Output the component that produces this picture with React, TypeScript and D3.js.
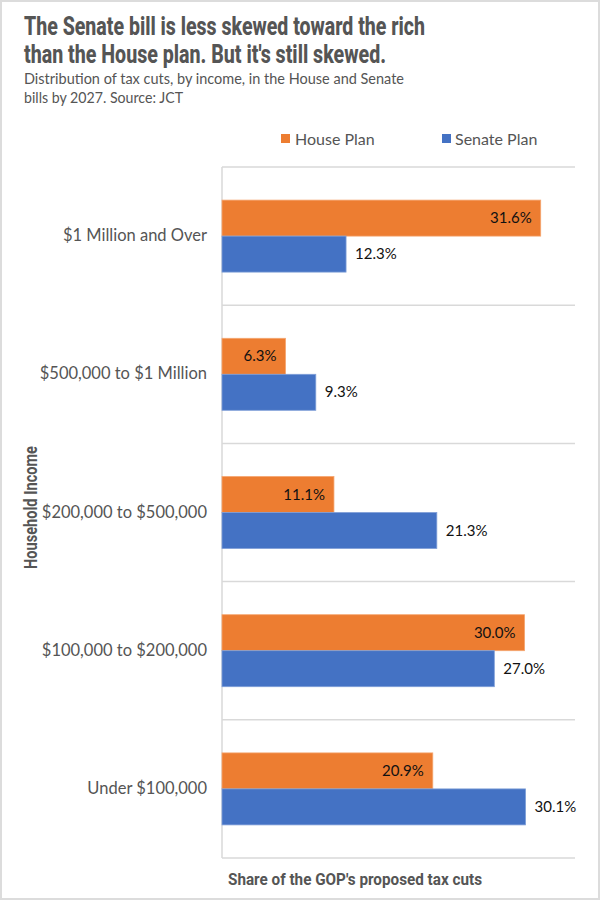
import * as d3 from "d3";

const categories = [
  "$1 Million and Over",
  "$500,000 to $1 Million",
  "$200,000 to $500,000",
  "$100,000 to $200,000",
  "Under $100,000",
];
const series = ["House Plan", "Senate Plan"];
const houseValues = [31.6, 6.3, 11.1, 30.0, 20.9];
const senateValues = [12.3, 9.3, 21.3, 27.0, 30.1];
const titleLines = [
  "The Senate bill is less skewed toward the rich",
  "than the House plan. But it's still skewed.",
];
const subtitleLines = [
  "Distribution of tax cuts, by income, in the House and Senate",
  "bills by 2027. Source: JCT",
];
const yTitle = "Household Income";
const xTitle = "Share of the GOP's proposed tax cuts";

const W = 600;
const H = 900;
const COLORS = { house: "#ED7D31", senate: "#4472C4" };
const GRID = "#d9d9d9";
const TEXT = "#555555";
const LATO = "Lato, 'Noto Sans', sans-serif";
const COND = "Roboto, 'Noto Sans', sans-serif";

export default function App() {
  const m = { top: 167, right: 25, bottom: 42, left: 222 };
  const x = d3.scaleLinear().domain([0, 35]).range([m.left, W - m.right]);
  const y = d3.scaleBand().domain(categories).range([m.top, H - m.bottom]).paddingInner(0);
  const bw = y.bandwidth();
  const barH = 36;
  const inner = d3.scaleBand().domain(series).range([(bw - 2 * barH) / 2, (bw + 2 * barH) / 2]);

  const rows = categories.map((c, i) => ({ cat: c, house: houseValues[i], senate: senateValues[i] }));
  const boundaries = [...categories.map((c) => y(c) as number), H - m.bottom];
  const fmt = (v: number) => `${v.toFixed(1)}%`;

  return (
    <div style={{ position: "absolute", top: 0, left: 0 }}>
      <svg width={W} height={H} style={{ display: "block", background: "#fff" }}>
        <rect x={1} y={1} width={W - 2} height={H - 2} fill="#fff" stroke="#dcdcdc" strokeWidth={2} />

        {/* Title */}
        {titleLines.map((t, i) => (
          <text key={t} x={24} y={35 + i * 28} fill={TEXT} fontFamily={COND} fontWeight={800} fontSize={26}
            textLength={i === 0 ? 401 : 362} lengthAdjust="spacingAndGlyphs">{t}</text>
        ))}
        {subtitleLines.map((t, i) => (
          <text key={t} x={24} y={84 + i * 19} fill={TEXT} fontFamily={LATO} fontSize={16}
            textLength={i === 0 ? 380 : 159} lengthAdjust="spacingAndGlyphs">{t}</text>
        ))}

        {/* Legend */}
        <rect x={281} y={134} width={9} height={9} fill={COLORS.house} />
        <text x={295} y={145} fill={TEXT} fontFamily={LATO} fontSize={16}>{series[0]}</text>
        <rect x={442} y={134} width={9} height={9} fill={COLORS.senate} />
        <text x={455} y={145} fill={TEXT} fontFamily={LATO} fontSize={16}>{series[1]}</text>

        {/* Grid */}
        {boundaries.map((b, i) => (
          <line key={i} x1={m.left} x2={W - m.right} y1={b} y2={b} stroke={GRID} strokeWidth={1.5} />
        ))}
        <line x1={m.left} x2={m.left} y1={m.top} y2={H - m.bottom} stroke={GRID} strokeWidth={1.5} />

        {/* Bars */}
        {rows.map((r) => {
          const y0 = y(r.cat) as number;
          const yh = y0 + (inner("House Plan") as number);
          const ys = y0 + (inner("Senate Plan") as number);
          return (
            <g key={r.cat}>
              <rect x={x(0)} y={yh} width={x(r.house) - x(0)} height={inner.bandwidth()} fill={COLORS.house}
                stroke="#f5a670" strokeWidth={0.8} />
              <rect x={x(0)} y={ys} width={x(r.senate) - x(0)} height={inner.bandwidth()} fill={COLORS.senate}
                stroke="#7f9fd8" strokeWidth={0.8} />
              <text x={x(r.house) - 9} y={yh + inner.bandwidth() / 2 + 5} textAnchor="end" fill="#111"
                fontFamily={LATO} fontSize={15}>{fmt(r.house)}</text>
              <text x={x(r.senate) + 9} y={ys + inner.bandwidth() / 2 + 5} fill="#111"
                fontFamily={LATO} fontSize={15}>{fmt(r.senate)}</text>
              <text x={207} y={y0 + bw / 2 + 5} textAnchor="end" fill={TEXT} fontFamily={LATO} fontSize={16.5}>
                {r.cat}
              </text>
            </g>
          );
        })}

        {/* Axis titles */}
        <text transform={`translate(37,${(m.top + H - m.bottom) / 2 - 5}) rotate(-90)`} textAnchor="middle"
          fill={TEXT} fontFamily={COND} fontWeight={700} fontSize={18} textLength={123} lengthAdjust="spacingAndGlyphs">
          {yTitle}
        </text>
        <text x={228} y={885} fill={TEXT} fontFamily={COND} fontWeight={700} fontSize={17}
          textLength={254} lengthAdjust="spacingAndGlyphs">{xTitle}</text>
      </svg>
    </div>
  );
}
